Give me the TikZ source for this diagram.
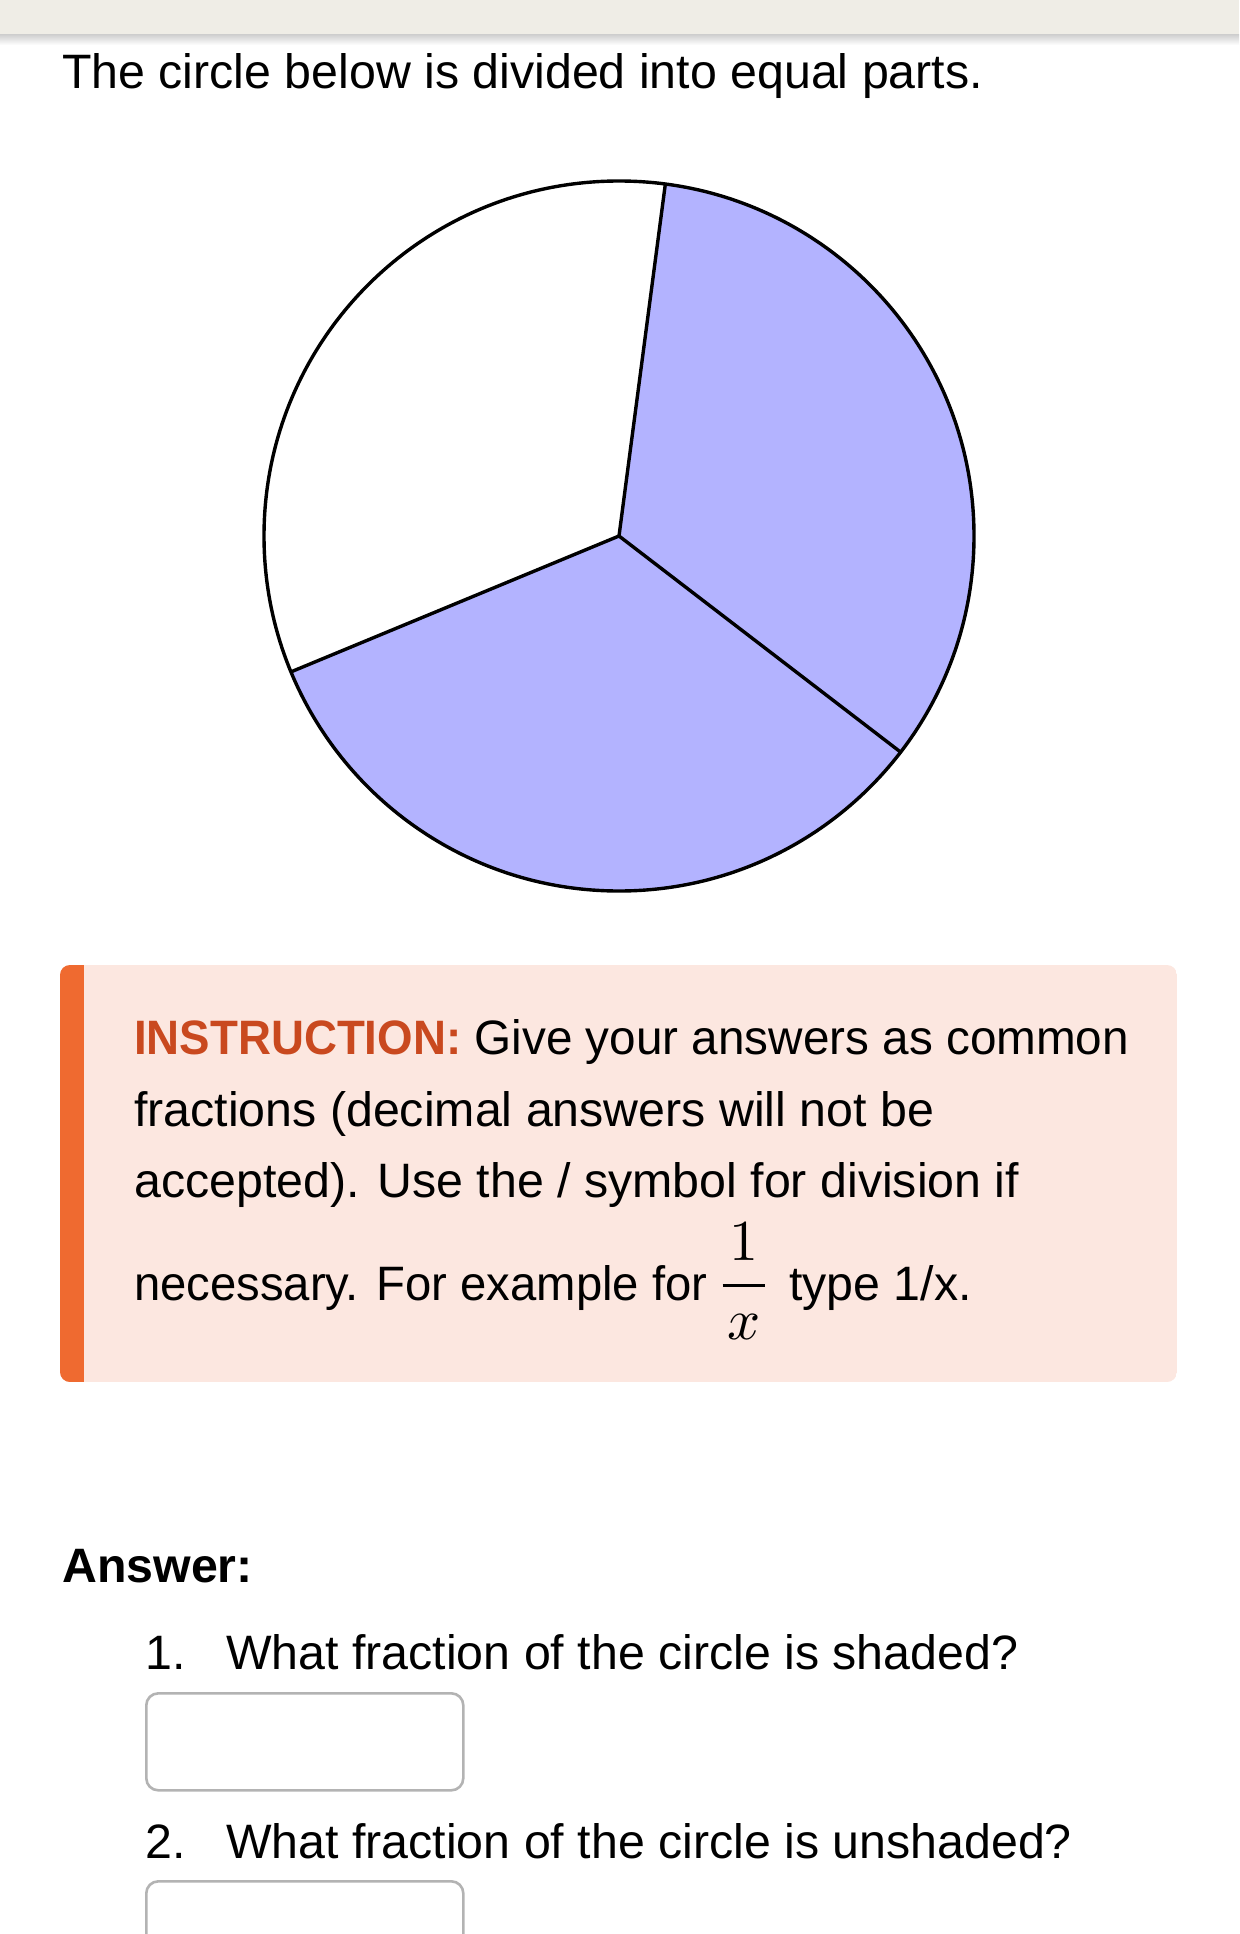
\documentclass[tikz,border=0pt]{standalone}
\usepackage{fontspec}
\setmainfont{Liberation Sans}
\usepackage{tikz}
\usetikzlibrary{positioning}
\definecolor{topbar}{HTML}{EFEDE6}
\definecolor{pieblue}{HTML}{B3B3FF}
\definecolor{notefill}{HTML}{FCE7E0}
\definecolor{notebar}{HTML}{EF6A30}
\definecolor{notered}{HTML}{C9491F}
\definecolor{boxgray}{HTML}{B3B3B3}
\tikzset{
    x=1pt, y=-1pt, % one unit is one pixel of the screenshot, y going down
    txt/.style={anchor=base west, inner sep=0pt, font=\fontsize{48.3}{58}\selectfont}, % every line of text
    pieline/.style={line width=3.4pt, line join=round}, % the circle and its radii
    answerbox/.style={draw=boxgray, line width=2.6pt, fill=white, rounded corners=12pt}, % empty answer fields
}

\begin{document}
\begin{tikzpicture}
        \useasboundingbox (0,0) rectangle (1239,1934);
        % header strip
        \fill[topbar] (0,0) rectangle (1239,35);
        \shade[top color=black!18, bottom color=white] (0,35) rectangle (1239,45);
        \node[txt] (title) at (62,89) {The circle below is divided into equal parts.};
        % the circle, split in three
        \coordinate (centre) at (619,536);
        \begin{scope}[shift={(centre)}, x=1pt, y=1pt]
            \fill[pieblue] (0,0) -- (202.5:355) arc[start angle=202.5, end angle=442.5, radius=355] -- cycle;
            \draw[pieline] (0,0) circle[radius=355];
            \foreach \a in {82.5, 202.5, 322.5}
                \draw[pieline] (0,0) -- (\a:355);
        \end{scope}
        % instruction panel
        \begin{scope}
            \clip[rounded corners=10pt] (60,965) rectangle (1177,1382);
            \fill[notefill] (60,965) rectangle (1177,1382);
            \fill[notebar] (60,965) rectangle (84,1382);
        \end{scope}
        \node[txt] (ins1) at (134,1054) {\scalebox{0.945}[1]{\textbf{\color{notered}INSTRUCTION:}} \scalebox{0.987}[1]{Give your answers as common}};
        \node[txt] (ins2) at (134,1126) {fractions (decimal answers will not be};
        \node[txt] (ins3) at (134,1197) {accepted). Use the / symbol for division if};
        \node[txt] (ins4) at (134,1300) {\scalebox{0.978}[1]{necessary. For example for}};
        \node[anchor=base, inner sep=0pt] (frac) at (744,1300) {\scalebox{5.8}{$\displaystyle\frac{\mkern1.5mu1\mkern1.5mu}{\mkern1.5mu x\mkern1.5mu}$}};
        \node[txt] (ins5) at (789,1300) {type 1/x.};
        % answers
        \node[txt] (ans) at (62,1582) {\textbf{Answer:}};
        \node[txt] (num1) at (145,1669) {1.};
        \node[txt] (q1) at (226,1669) {What fraction of the circle is shaded?};
        \node[answerbox, anchor=north west, minimum width=317pt, minimum height=97pt] (a1) at (145,1692) {};
        \node[txt] (num2) at (145,1858) {2.};
        \node[txt] (q2) at (226,1858) {What fraction of the circle is unshaded?};
        \begin{scope}
            \clip (0,0) rectangle (1239,1934);
            \node[answerbox, anchor=north west, minimum width=317pt, minimum height=97pt] (a2) at (145,1880) {};
        \end{scope}
    \end{tikzpicture}
\end{document}
